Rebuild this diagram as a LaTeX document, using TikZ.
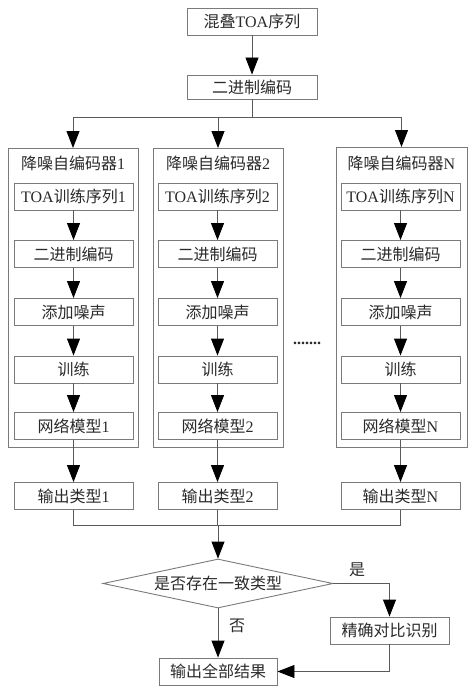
\documentclass[tikz,border=0pt]{standalone}
\usepackage{fontspec}
\setmainfont{Liberation Serif}
\newfontfamily\cjk{Noto Sans CJK SC}
\newcommand\zh[1]{{\cjk #1}}
\usetikzlibrary{arrows.meta,shapes.geometric}
\definecolor{boxc}{HTML}{7A7A7A}
\definecolor{linec}{HTML}{5A5A5A}
\definecolor{txt}{HTML}{2A2A2A}
\tikzset{
  bx/.style={draw=boxc, line width=0.9pt, minimum width=#1, minimum height=27pt, inner sep=0pt, text=txt, font=\fontsize{16}{18}\selectfont},
  bx/.default=119pt,
  outer/.style={draw=boxc, line width=0.9pt, inner sep=0pt},
  conn/.style={draw=linec, line width=0.9pt},
  arr/.style={conn, -{Triangle[width=13pt,length=17pt,color=black]}},
  lbl/.style={text=txt, font=\fontsize{16}{18}\selectfont, inner sep=0pt}
}
\begin{document}
\begin{tikzpicture}[x=1pt,y=-1pt]
\useasboundingbox (0,0) rectangle (474,693);
% top boxes
\node[bx=130pt] (toa) at (252,21.5) {\zh{混叠}TOA\zh{序列}};
\node[bx=130pt, minimum height=24pt] (bin) at (252,87) {\zh{二进制编码}};
\draw[arr] (toa) -- (bin);
% outer boxes
\draw[outer] (8,148) rectangle (138,447);
\draw[outer] (153,148) rectangle (283,447);
\draw[outer] (336,147) rectangle (467,447);
\coordinate (o1) at (73,148);
\coordinate (o2) at (218,148);
\coordinate (oN) at (401.5,147);
\node[lbl] (t1) at (73,163) {\zh{降噪自编码器}1};
\node[lbl] (t2) at (218,163) {\zh{降噪自编码器}2};
\node[lbl] (tN) at (401.5,163) {\zh{降噪自编码器}N};
% split
\coordinate (sp) at (252,117);
\coordinate (sl) at (73,117);
\coordinate (sr) at (401.5,117);
\draw[conn] (bin.south) -- (sp);
\draw[conn] (sl) -- (sr);
\draw[arr] (sl) -- (o1);
\draw[arr] (218,117) -- (o2);
\draw[arr] (sr) -- (oN);
% columns
\foreach \c/\x in {1/73.5, 2/217.5, N/400.5}{
  \node[bx] (a\c) at (\x,196.5) {TOA\zh{训练序列}\c};
  \node[bx] (b\c) at (\x,254) {\zh{二进制编码}};
  \node[bx] (c\c) at (\x,312) {\zh{添加噪声}};
  \node[bx] (d\c) at (\x,369.5) {\zh{训练}};
  \node[bx] (e\c) at (\x,426) {\zh{网络模型}\c};
  \node[bx] (f\c) at (\x,496) {\zh{输出类型}\c};
  \draw[arr] (a\c) -- (b\c);
  \draw[arr] (b\c) -- (c\c);
  \draw[arr] (c\c) -- (d\c);
  \draw[arr] (d\c) -- (e\c);
  \draw[arr] (e\c) -- (f\c);
}
\node[lbl] (dots) at (307,343) {\textbf{.......}};
% merge
\coordinate (m1) at (73.5,525);
\coordinate (mN) at (400.5,525);
\coordinate (mc) at (218,525);
\draw[conn] (f1.south) -- (m1) -- (mN) -- (fN.south);
\draw[conn] (f2.south) -- (217.5,525);
\node[draw=boxc, line width=0.9pt, diamond, aspect=4.7, minimum width=230pt, minimum height=49pt, inner sep=0pt, text=txt, font=\fontsize{16}{18}\selectfont] (dec) at (218,583.5) {\zh{是否存在一致类型}};
\draw[arr] (mc) -- (dec.north);
\node[bx] (cmp) at (389.5,630.5) {\zh{精确对比识别}};
\node[bx, minimum width=118pt] (out) at (218,671.5) {\zh{输出全部结果}};
\coordinate (yr) at (389.5,583.5);
\draw[arr] (dec.east) -- (yr) -- (cmp.north);
\node[lbl] (yes) at (357,570) {\zh{是}};
\draw[arr] (dec.south) -- (out.north);
\node[lbl] (no) at (237,626) {\zh{否}};
\coordinate (br) at (389.5,671.5);
\draw[arr] (cmp.south) -- (br) -- (out.east);
\end{tikzpicture}
\end{document}
